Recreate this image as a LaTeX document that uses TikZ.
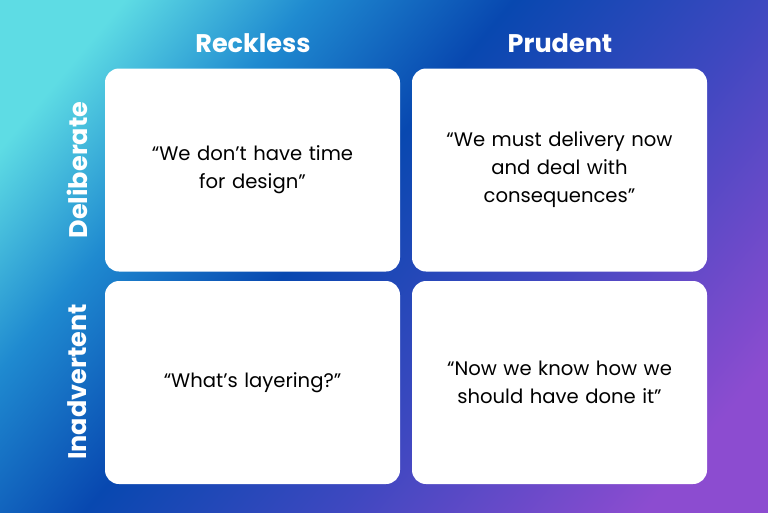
\documentclass[tikz,border=0pt]{standalone}
\usepackage{fontspec}
\setmainfont{Poppins}
\definecolor{cA}{HTML}{5EDCE4}
\definecolor{cB}{HTML}{1F8AD0}
\definecolor{cC}{HTML}{0848B0}
\definecolor{cD}{HTML}{3E48C0}
\definecolor{cE}{HTML}{8C4CD0}
\pgfdeclarehorizontalshading{bgshade}{100bp}{color(0bp)=(cA);color(22bp)=(cA);color(33bp)=(cB);color(45bp)=(cC);color(60bp)=(cD);color(78bp)=(cE);color(100bp)=(cE)}
\tikzset{
 card/.style={draw=none,fill=white,rounded corners=14pt,minimum width=295pt,minimum height=203pt,align=center,font=\fontsize{19.6}{28}\selectfont,text width=260pt},
 head/.style={text=white,font=\bfseries\fontsize{25.5}{30}\selectfont},
}
\begin{document}
\begin{tikzpicture}[x=1pt,y=-1pt]
\shade[shading=bgshade,shading angle=-40] (0,0) rectangle (768,512);
\useasboundingbox (0,0) rectangle (768,512);
\node[card] (rd) at (252.5,170) {“We don’t have time\\for design”};
\node[card] (pd) at (559.5,170) {“We must delivery now\\and deal with\\consequences”};
\node[card] (ri) at (252.5,382.5) {“What’s layering?”};
\node[card] (pi) at (559.5,382.5) {“Now we know how we\\should have done it”};
\node[head] (hr) at (253,43) {Reckless};
\node[head] (hp) at (560,43) {Prudent};
\node[head,rotate=90] (hd) at (77,170) {Deliberate};
\node[head,rotate=90] (hi) at (77,382) {Inadvertent};
\end{tikzpicture}
\end{document}
